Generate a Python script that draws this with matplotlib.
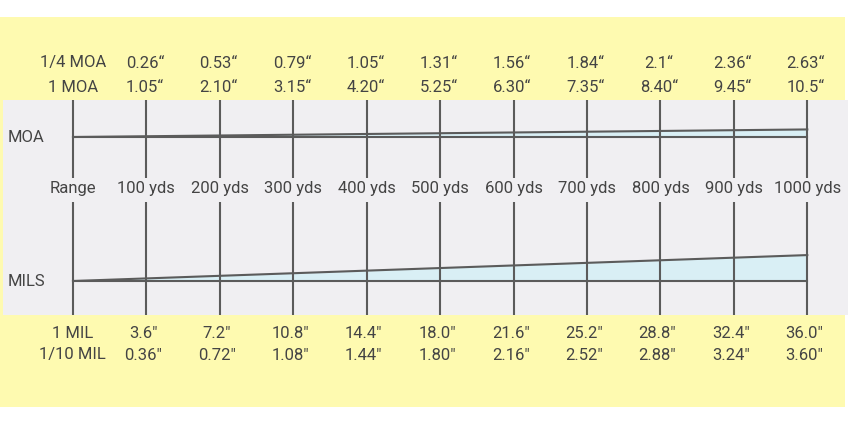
import matplotlib
matplotlib.use("Agg")
import matplotlib.pyplot as plt
import matplotlib.patches as pat

plt.rcParams['font.family'] = ['Roboto', 'DejaVu Sans']

# data
ranges = [100, 200, 300, 400, 500, 600, 700, 800, 900, 1000]
range_labels = ["%d yds" % r for r in ranges]
quarter_moa = ["0.26“", "0.53“", "0.79“", "1.05“", "1.31“", "1.56“", "1.84“", "2.1“", "2.36“", "2.63“"]
one_moa = ["1.05“", "2.10“", "3.15“", "4.20“", "5.25“", "6.30“", "7.35“", "8.40“", "9.45“", "10.5“"]
one_moa_in = [1.05, 2.10, 3.15, 4.20, 5.25, 6.30, 7.35, 8.40, 9.45, 10.5]
one_mil = ["3.6″", "7.2″", "10.8″", "14.4″", "18.0″", "21.6″", "25.2″", "28.8″", "32.4″", "36.0″"]
tenth_mil = ["0.36″", "0.72″", "1.08″", "1.44″", "1.80″", "2.16″", "2.52″", "2.88″", "3.24″", "3.60″"]
one_mil_in = [3.6, 7.2, 10.8, 14.4, 18.0, 21.6, 25.2, 28.8, 32.4, 36.0]

YELLOW = "#fefab0"
BAND = "#f0eff2"
LINE = "#5b5b5b"
FILL = "#d9eff5"
TXT = "#444444"

fig = plt.figure(figsize=(8.48, 4.24), dpi=100)
ax = fig.add_axes([0, 0, 1, 1])
# x in yards, y in layout units (top = 0)
px_per_yd = 0.7343
x0 = 73
ax.set_xlim(-x0 / px_per_yd, (848 - x0) / px_per_yd)
ax.set_ylim(424, 0)
ax.axis("off")

def px(v):
    return (v - x0) / px_per_yd

ax.add_patch(pat.Rectangle((px(0), 17), 845 * 1 / px_per_yd, 390, color=YELLOW, lw=0))
ax.add_patch(pat.Rectangle((px(3), 100), 845 / px_per_yd, 215, color=BAND, lw=0))

# vertical range lines, broken at the range row
xs = [0] + ranges
for x in xs:
    ax.plot([x, x], [100, 178], color=LINE, lw=1.5, solid_capstyle="butt")
    ax.plot([x, x], [202, 315], color=LINE, lw=1.5, solid_capstyle="butt")

# wedges: height proportional to inches subtended
k = 0.72
moa_base = 137
mil_base = 281
moa_top = moa_base - k * one_moa_in[-1]
mil_top = mil_base - k * one_mil_in[-1]
ax.fill([0, 1000, 1000], [moa_base, moa_top, moa_base], color=FILL, lw=0)
ax.fill([0, 1000, 1000], [mil_base, mil_top, mil_base], color=FILL, lw=0)
ax.plot([0, 1000], [moa_base, moa_base], color=LINE, lw=1.5)
ax.plot([0, 1000], [moa_base, moa_top], color=LINE, lw=1.5)
ax.plot([0, 1000], [mil_base, mil_base], color=LINE, lw=1.5)
ax.plot([0, 1000], [mil_base, mil_top], color=LINE, lw=1.5)

fs = 12
kw = dict(color=TXT, fontsize=fs, va="center", ha="center")
ax.text(0, 63, "1/4 MOA", **kw)
ax.text(0, 88, "1 MOA", **kw)
ax.text(0, 189, "Range", **kw)
ax.text(-1, 333, "1 MIL", **kw)
ax.text(-1, 355, "1/10 MIL", **kw)
ax.text(px(8), 137, "MOA", color=TXT, fontsize=fs, va="center", ha="left")
ax.text(px(8), 282, "MILS", color=TXT, fontsize=fs, va="center", ha="left")

for i, x in enumerate(ranges):
    ax.text(x - 2, 63, quarter_moa[i], **kw)
    ax.text(x - 2, 88, one_moa[i], **kw)
    ax.text(x, 189, range_labels[i], **kw)
    ax.text(x - 4, 333, one_mil[i], **kw)
    ax.text(x - 4, 355, tenth_mil[i], **kw)

fig.savefig("out.png", dpi=100, facecolor="white")
